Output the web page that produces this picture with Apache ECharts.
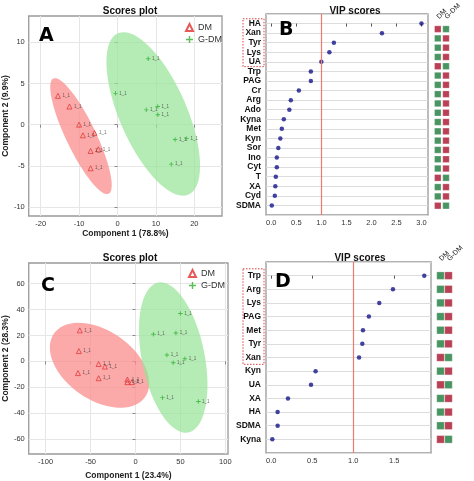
<!DOCTYPE html>
<html>
<head>
<meta charset="utf-8">
<script src="https://cdn.jsdelivr.net/npm/echarts@6/dist/echarts.min.js"></script>
<style>html,body{margin:0;padding:0;background:#fff}#main{width:474px;height:481px}</style>
</head>
<body>
<div id="main"></div>
<script>
// ---- data ----
let aDM = [[-15.5, 3.5], [-12.5, 2.2], [-10, 0], [-9, -1.3], [-6, -1], [-7, -3.2], [-5, -3], [-7, -5.3]];
let aGDM = [[8, 8], [-0.5, 3.8], [7.5, 1.8], [10.5, 2.2], [10.5, 1.2], [15, -1.8], [18, -1.7], [14, -4.8]];
// ellipse: center x, center y, semi-axis 1 (dx, dy), semi-axis 2 (dx, dy)
let aEllDM = [-9.5, -1.4, 7.2, -7.0, 3.5, 0.78];
let aEllGDM = [9.3, 1.3, 9.2, -9.8, 8.0, 1.65];

let cDM = [[-62, 24], [-63, 8], [-64, -9], [-41, -2], [-34, -4], [-41, -13], [-9, -14], [-9, -16], [-4, -16]];
let cGDM = [[50, 37], [20, 21], [45, 22], [35, 5], [55, 2], [42, -1], [30, -28], [70, -31]];
let cEllDM = [-40, -3, 50.7, -24.5, 22.1, 21.8];
let cEllGDM = [42, 3, 16.7, -57.9, 34.3, 4.7];

let bNames = ['HA', 'Xan', 'Tyr', 'Lys', 'UA', 'Trp', 'PAG', 'Cr', 'Arg', 'Ado', 'Kyna', 'Met', 'Kyn', 'Sor', 'Ino', 'Cyt', 'T', 'XA', 'Cyd', 'SDMA'];
let bVip = [3.0, 2.21, 1.25, 1.16, 1.0, 0.79, 0.79, 0.55, 0.39, 0.36, 0.25, 0.21, 0.18, 0.14, 0.11, 0.11, 0.09, 0.08, 0.07, 0.01];
// 1 = high, -1 = low; [DM, G-DM]
let bHeat = [[1, -1], [-1, 1], [-1, 1], [-1, 1], [1, -1], [-1, 1], [-1, 1], [-1, 1], [-1, 1], [-1, 1],
    [-1, 1], [-1, 1], [-1, 1], [-1, 1], [-1, 1], [-1, 1], [1, -1], [-1, 1], [-1, 1], [1, -1]];

let dNames = ['Trp', 'Arg', 'Lys', 'PAG', 'Met', 'Tyr', 'Xan', 'Kyn', 'UA', 'XA', 'HA', 'SDMA', 'Kyna'];
let dVip = [1.866, 1.484, 1.317, 1.19, 1.118, 1.11, 1.07, 0.54, 0.484, 0.203, 0.077, 0.077, 0.012];
let dHeat = [[-1, 1], [-1, 1], [-1, 1], [-1, 1], [-1, 1], [-1, 1], [1, -1], [-1, 1], [1, -1], [-1, 1],
    [-1, 1], [-1, 1], [1, -1]];

let groups = ['DM', 'G-DM'];

// ---- helpers ----
const FONT = 'Liberation Sans';
const plusPath = 'path://M4,0H6V4H10V6H6V10H4V6H0V4H4Z';

function ellipseSeries(ell, grid, color) {
    return {
        type: 'custom', xAxisIndex: grid, yAxisIndex: grid, silent: true, z: 1,
        data: [ell], encode: {x: 0, y: 1},
        renderItem: function (params, api) {
            let e = ell, pts = [];
            for (let i = 0; i < 72; i++) {
                let t = i / 72 * Math.PI * 2;
                pts.push(api.coord([e[0] + e[2] * Math.cos(t) + e[4] * Math.sin(t),
                    e[1] + e[3] * Math.cos(t) + e[5] * Math.sin(t)]));
            }
            return {type: 'polygon', shape: {points: pts}, style: {fill: color}};
        }
    };
}

function scoreSeries(name, pts, grid) {
    let isDM = name === 'DM';
    return {
        name: name, type: 'scatter', xAxisIndex: grid, yAxisIndex: grid, z: 3,
        symbol: isDM ? 'triangle' : plusPath, symbolSize: isDM ? 5 : 4.5,
        itemStyle: isDM ? {color: 'rgba(0,0,0,0)', borderColor: '#e03030', borderWidth: 0.9} : {color: '#30b030'},
        label: {show: true, position: 'right', distance: 1.5, formatter: '1_1', fontSize: 4.5, color: '#444', fontFamily: FONT},
        data: pts
    };
}

function scoreAxes(grid, xr, yr, xt, yt, xName, yName, xGap) {
    let common = {
        type: 'value', gridIndex: grid, nameLocation: 'middle',
        nameTextStyle: {fontFamily: FONT, fontWeight: 'bold', fontSize: 8.5, color: '#222'},
        axisLine: {show: false}, axisTick: {show: true, length: 3, lineStyle: {color: '#888'}},
        splitLine: {show: true, lineStyle: {color: '#e6e6e6'}}
    };
    return [
        Object.assign({}, common, {min: xr[0], max: xr[1], name: xName, nameGap: xGap,
            axisTick: Object.assign({}, common.axisTick, {customValues: xt}),
            axisLabel: {customValues: xt, fontSize: 7.5, color: '#333', margin: 4, fontFamily: FONT}}),
        Object.assign({}, common, {min: yr[0], max: yr[1], name: yName, nameGap: 18,
            axisTick: Object.assign({}, common.axisTick, {customValues: yt}),
            axisLabel: {customValues: yt, fontSize: 7.5, color: '#333', margin: 4, fontFamily: FONT}})
    ];
}

function vipAxes(grid, xr, xt, names) {
    return [
        {type: 'value', gridIndex: grid, min: xr[0], max: xr[1],
            axisLine: {show: false}, splitLine: {show: false},
            axisTick: {show: true, length: 3, customValues: xt, lineStyle: {color: '#555'}},
            axisLabel: {customValues: xt, fontSize: 7.5, color: '#333', margin: 4, fontFamily: FONT,
                formatter: v => v.toFixed(1)}},
        {type: 'value', gridIndex: grid, min: -1, max: names.length, interval: 1, inverse: true,
            axisLine: {show: false}, axisTick: {show: false},
            splitLine: {show: true, lineStyle: {color: '#dcdcdc'}},
            axisLabel: {fontSize: 8.5, fontWeight: 'bold', color: '#111', margin: 5, fontFamily: FONT,
                formatter: v => (v >= 0 && v < names.length) ? names[v] : ''}}
    ];
}

function heatAxes(grid, n) {
    return [
        {type: 'value', gridIndex: grid, min: -1, max: 2, interval: 1, position: 'top',
            axisLine: {show: false}, axisTick: {show: false}, splitLine: {show: false},
            axisLabel: {rotate: 45, fontSize: 7, color: '#222', margin: 2, fontFamily: FONT,
                formatter: v => (v >= 0 && v < groups.length) ? groups[v] : ''}},
        {type: 'value', gridIndex: grid, min: -1, max: n, inverse: true, show: false}
    ];
}

function vipSeries(grid, vals) {
    return {
        type: 'scatter', xAxisIndex: grid, yAxisIndex: grid, symbolSize: 4.5, z: 3,
        itemStyle: {color: '#14148a'},
        data: vals.map((v, i) => [v, i]),
        markLine: {silent: true, symbol: 'none', label: {show: false},
            lineStyle: {color: '#f07a72', type: 'solid', width: 1.2}, data: [{xAxis: 1}]}
    };
}

function heatSeries(grid, heat, size) {
    let data = [];
    heat.forEach((row, i) => row.forEach((h, j) => data.push([j, i, h])));
    return {
        type: 'scatter', xAxisIndex: grid, yAxisIndex: grid, symbol: 'rect', symbolSize: size,
        itemStyle: {borderColor: '#fff', borderWidth: 0.3}, data: data
    };
}

const titleStyle = {fontFamily: FONT, fontWeight: 'bold', fontSize: 10, color: '#111'};
const letterStyle = {fontFamily: 'DejaVu Sans', fontWeight: 'bold', fontSize: 19, color: '#000'};
const gridBorder = {show: true, borderColor: '#999', borderWidth: 1.3, backgroundColor: '#fff'};

let chart = echarts.init(document.getElementById('main'));

let sA = scoreAxes(0, [-23.1, 27.2], [-11.1, 13.2], [-20, -10, 0, 10, 20], [-10, -5, 0, 5, 10],
    'Component 1 (78.8%)', 'Component 2 (9.9%)', 13);
let sC = scoreAxes(3, [-118.8, 103], [-71.5, 76], [-100, -50, 0, 50, 100], [-60, -40, -20, 0, 20, 40, 60],
    'Component 1 (23.4%)', 'Component 2 (28.3%)', 17);
let vB = vipAxes(1, [-0.106, 3.13], [0, 0.5, 1, 1.5, 2, 2.5, 3], bNames);
let hB = heatAxes(2, bNames.length);
let vD = vipAxes(4, [-0.065, 1.948], [0, 0.5, 1, 1.5], dNames);
let hD = heatAxes(5, dNames.length);

let heatColors = ['#1a7a3a', '#ffffbf', '#a8102a'];

let option = {
    animation: false,
    title: [
        {text: 'Scores plot', left: 125, top: 1, textAlign: 'center', textStyle: titleStyle},
        {text: 'VIP scores', left: 350, top: 1, textAlign: 'center', textStyle: titleStyle},
        {text: 'Scores plot', left: 125, top: 248, textAlign: 'center', textStyle: titleStyle},
        {text: 'VIP scores', left: 355, top: 248, textAlign: 'center', textStyle: titleStyle},
        {text: 'A', left: 34, top: 22, textStyle: letterStyle},
        {text: 'B', left: 274, top: 16, textStyle: letterStyle},
        {text: 'C', left: 36, top: 272, textStyle: letterStyle},
        {text: 'D', left: 270, top: 268, textStyle: letterStyle}
    ],
    legend: [
        {data: groups, orient: 'vertical', left: 180, top: 18, itemWidth: 7, itemHeight: 7, itemGap: 3,
            textStyle: {fontSize: 9, color: '#333', fontFamily: FONT}},
        {data: groups, orient: 'vertical', left: 183, top: 264, itemWidth: 7, itemHeight: 7, itemGap: 3,
            textStyle: {fontSize: 9, color: '#333', fontFamily: FONT}}
    ],
    grid: [
        Object.assign({left: 27, top: 16, width: 195, height: 200}, gridBorder),
        Object.assign({left: 266, top: 14, width: 162, height: 201}, gridBorder),
        {left: 429.6, top: 14, width: 24.6, height: 201},
        Object.assign({left: 27, top: 263, width: 201, height: 193}, gridBorder),
        Object.assign({left: 266, top: 262, width: 165, height: 191}, gridBorder),
        {left: 432.5, top: 262, width: 24, height: 191}
    ],
    xAxis: [sA[0], vB[0], hB[0], sC[0], vD[0], hD[0]],
    yAxis: [sA[1], vB[1], hB[1], sC[1], vD[1], hD[1]],
    visualMap: [
        {type: 'continuous', min: -1, max: 1, dimension: 2, seriesIndex: 10, calculable: false,
            left: 459, top: 68, itemWidth: 7, itemHeight: 62, text: ['High', 'Low'], textGap: 3,
            textStyle: {fontSize: 6, color: '#444', fontFamily: FONT}, inRange: {color: heatColors}},
        {type: 'continuous', min: -1, max: 1, dimension: 2, seriesIndex: 11, calculable: false,
            left: 463, top: 313, itemWidth: 7, itemHeight: 68, text: ['High', 'Low'], textGap: 3,
            textStyle: {fontSize: 6, color: '#444', fontFamily: FONT}, inRange: {color: heatColors}}
    ],
    series: [
        ellipseSeries(aEllDM, 0, 'rgba(250,140,140,0.75)'),
        ellipseSeries(aEllGDM, 0, 'rgba(150,228,150,0.7)'),
        scoreSeries('DM', aDM, 0),
        scoreSeries('G-DM', aGDM, 0),
        ellipseSeries(cEllDM, 3, 'rgba(250,140,140,0.75)'),
        ellipseSeries(cEllGDM, 3, 'rgba(150,228,150,0.7)'),
        scoreSeries('DM', cDM, 3),
        scoreSeries('G-DM', cGDM, 3),
        vipSeries(1, bVip),
        vipSeries(4, dVip),
        heatSeries(2, bHeat, 6.5),
        heatSeries(5, dHeat, 7.5)
    ]
};
chart.setOption(option);

// dashed boxes around the metabolites above the VIP threshold
function dashedBox(grid, n) {
    let top = chart.convertToPixel({xAxisIndex: grid, yAxisIndex: grid}, [0, -0.5])[1];
    let bottom = chart.convertToPixel({xAxisIndex: grid, yAxisIndex: grid}, [0, n - 0.5])[1];
    return {type: 'rect', shape: {x: 243, y: top, width: 21, height: bottom - top},
        style: {fill: 'none', stroke: '#e04040', lineWidth: 1, lineDash: [1.5, 1.5]}};
}
chart.setOption({graphic: [dashedBox(1, 5), dashedBox(4, 7)]});
</script>
</body>
</html>
